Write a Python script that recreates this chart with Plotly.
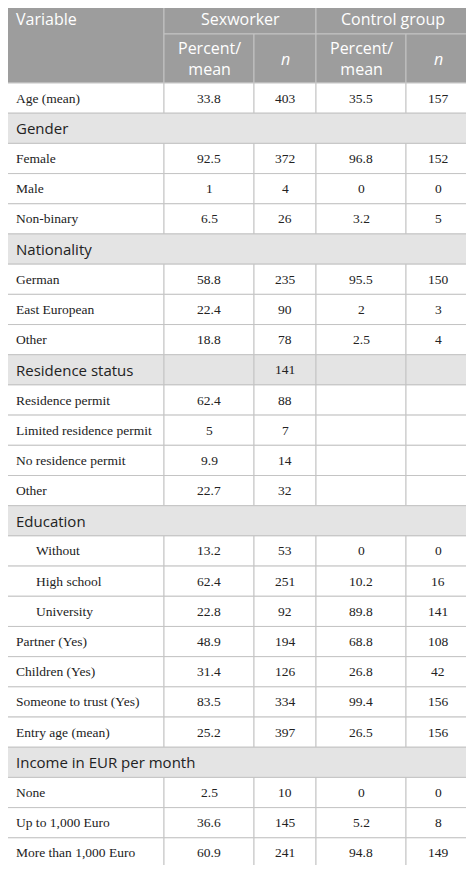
import plotly.graph_objects as go

# table content
labels = ["Age (mean)", "Gender", "Female", "Male", "Non-binary", "Nationality", "German",
          "East European", "Other", "Residence status", "Residence permit",
          "Limited residence permit", "No residence permit", "Other", "Education",
          "Without", "High school", "University", "Partner (Yes)", "Children (Yes)",
          "Someone to trust (Yes)", "Entry age (mean)", "Income in EUR per month",
          "None", "Up to 1,000 Euro", "More than 1,000 Euro"]
sw_pct = ["33.8", "", "92.5", "1", "6.5", "", "58.8", "22.4", "18.8", "", "62.4", "5", "9.9",
          "22.7", "", "13.2", "62.4", "22.8", "48.9", "31.4", "83.5", "25.2", "", "2.5", "36.6", "60.9"]
sw_n = ["403", "", "372", "4", "26", "", "235", "90", "78", "141", "88", "7", "14", "32", "",
        "53", "251", "92", "194", "126", "334", "397", "", "10", "145", "241"]
cg_pct = ["35.5", "", "96.8", "0", "3.2", "", "95.5", "2", "2.5", "", "", "", "", "", "",
          "0", "10.2", "89.8", "68.8", "26.8", "99.4", "26.5", "", "0", "5.2", "94.8"]
cg_n = ["157", "", "152", "0", "5", "", "150", "3", "4", "", "", "", "", "", "",
        "0", "16", "141", "108", "42", "156", "156", "", "0", "8", "149"]
kinds = ["d", "s", "d", "d", "d", "s", "d", "d", "d", "sc", "d", "d", "d", "d", "s",
         "i", "i", "i", "d", "d", "d", "d", "s", "d", "d", "d"]

W, H = 474, 873
PAD = 8  # page body margin
xs = [4, 164, 254, 316, 406, 470]
top, h1, h2 = 4, 34, 83
row_h = (868 - h2) / len(labels)
line = "#c4c4c4"
head_bg = "#9d9d9d"
sec_bg = "#e4e4e4"
serif = "Liberation Serif"
sans = "Open Sans"

shapes, ann = [], []

def rect(x0, y0, x1, y1, fill):
    shapes.append(dict(type="rect", x0=x0, x1=x1, y0=y0, y1=y1, fillcolor=fill,
                       line=dict(color=line, width=1), layer="below"))

def text(x, y, s, size, font, color="#222", anchor="center", italic=False):
    ann.append(dict(x=x, y=y, text=f"<i>{s}</i>" if italic else s, showarrow=False,
                    xanchor=anchor, yanchor="middle",
                    font=dict(size=size, family=font, color=color)))

# header
rect(xs[0], top, xs[1], h2, head_bg)
rect(xs[1], top, xs[3], h1, head_bg)
rect(xs[3], top, xs[5], h1, head_bg)
for i in range(1, 5):
    rect(xs[i], h1, xs[i + 1], h2, head_bg)
text(xs[0] + 10, (top + h1) / 2, "Variable", 16, sans, "white", "left")
text((xs[1] + xs[3]) / 2, (top + h1) / 2, "Sexworker", 16, sans, "white")
text((xs[3] + xs[5]) / 2, (top + h1) / 2, "Control group", 16, sans, "white")
for i, s in enumerate(["Percent/<br>mean", "n", "Percent/<br>mean", "n"]):
    text((xs[i + 1] + xs[i + 2]) / 2, (h1 + h2) / 2, s, 16, sans, "white", italic=(s == "n"))

# body
for r, lab in enumerate(labels):
    y0 = h2 + r * row_h
    y1 = y0 + row_h
    ym = (y0 + y1) / 2
    k = kinds[r]
    if k == "s":
        rect(xs[0], y0, xs[5], y1, sec_bg)
        text(xs[0] + 10, ym, lab, 15, sans, "#222", "left")
        continue
    fill = sec_bg if k == "sc" else "white"
    for i in range(5):
        rect(xs[i], y0, xs[i + 1], y1, fill)
    if k == "sc":
        text(xs[0] + 10, ym, lab, 15, sans, "#222", "left")
    else:
        text(xs[0] + (30 if k == "i" else 10), ym, lab, 13.5, serif, "#222", "left")
    for i, col in enumerate([sw_pct, sw_n, cg_pct, cg_n]):
        text((xs[i + 1] + xs[i + 2]) / 2, ym, col[r], 13.5, serif)

fig = go.Figure()
fig.update_layout(width=W - 2 * PAD, height=H - 2 * PAD, margin=dict(l=0, r=0, t=0, b=0),
                  plot_bgcolor="white", paper_bgcolor="white",
                  shapes=shapes, annotations=ann,
                  xaxis=dict(range=[PAD, W - PAD], visible=False, fixedrange=True),
                  yaxis=dict(range=[H - PAD, PAD], visible=False, fixedrange=True))
fig.write_html("out.html")
